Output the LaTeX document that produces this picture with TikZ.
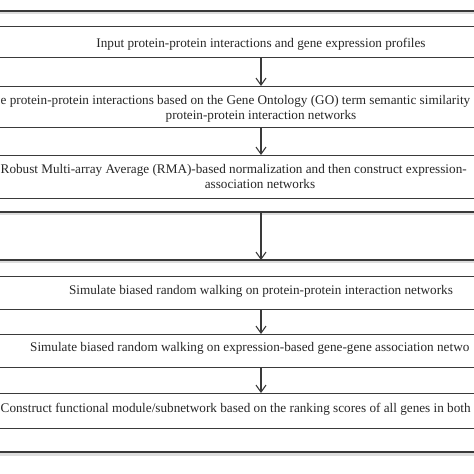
\documentclass[tikz,border=0pt]{standalone}
\usepackage{fontspec}
\setmainfont{Liberation Serif}
\usetikzlibrary{arrows.meta}
\definecolor{lc}{HTML}{3A3A3A}
\definecolor{sh}{HTML}{DDDDDD}
\tikzset{
  stepbox/.style={draw=lc, line width=1.1pt, minimum width=560pt, inner sep=0pt, anchor=north},
  sepline/.style={draw=lc, line width=1.1pt},
  shadowline/.style={draw=sh, line width=2.5pt},
  arr/.style={draw=lc, line width=1.1pt, -{Straight Barb[length=7pt,width=10pt,line width=1.1pt]}},
  lbl/.style={inner sep=0pt, font=\fontsize{13.2}{15.2}\selectfont, text=black!85}
}
\begin{document}
\begin{tikzpicture}[x=1pt,y=-1pt]
\useasboundingbox (0,0) rectangle (474,474);
\clip (0,0) rectangle (474,474);
% shadows
\draw[shadowline] (-10,13) -- (490,13);
\draw[shadowline] (-10,214) -- (490,214);
\draw[shadowline] (-10,262) -- (490,262);
\draw[shadowline] (-10,454.5) -- (490,454.5);
% separator lines
\draw[sepline] (-10,11) -- (490,11);
\coordinate (s1) at (261,212);
\coordinate (s2) at (261,260);
\draw[sepline] (-10,212) -- (490,212);
\draw[sepline] (-10,260) -- (490,260);
\draw[sepline] (-10,452) -- (490,452);
% boxes
\node[stepbox, minimum height=31pt] (b1) at (261,26) {};
\node[stepbox, minimum height=41pt] (b2) at (261,86) {};
\node[stepbox, minimum height=43pt] (b3) at (261,155) {};
\node[stepbox, minimum height=33pt] (b4) at (261,276) {};
\node[stepbox, minimum height=33pt] (b5) at (261,334) {};
\node[stepbox, minimum height=35pt] (b6) at (261,393) {};
% texts
\node[lbl, anchor=base] (t1) at (261,47.5) {Input protein-protein interactions and gene expression profiles};
\node[lbl, anchor=base west] (t2a) at (0.5,104) {e protein-protein interactions based on the Gene Ontology (GO) term semantic similarity};
\node[lbl, anchor=base] (t2b) at (261,119) {protein-protein interaction networks};
\node[lbl, anchor=base west] (t3a) at (0.5,173) {Robust Multi-array Average (RMA)-based normalization and then construct expression-};
\node[lbl, anchor=base] (t3b) at (260,188) {association networks};
\node[lbl, anchor=base] (t4) at (261,294) {Simulate biased random walking on protein-protein interaction networks};
\node[lbl, anchor=base west] (t5) at (30,351.5) {Simulate biased random walking on expression-based gene-gene association netwo};
\node[lbl, anchor=base west] (t6) at (0.5,412.5) {Construct functional module/subnetwork based on the ranking scores of all genes in both};
% arrows
\draw[arr] (b1.south) -- (b2.north);
\draw[arr] (b2.south) -- (b3.north);
\draw[arr] (s1) -- (s2);
\draw[arr] (b4.south) -- (b5.north);
\draw[arr] (b5.south) -- (b6.north);
\end{tikzpicture}
\end{document}
